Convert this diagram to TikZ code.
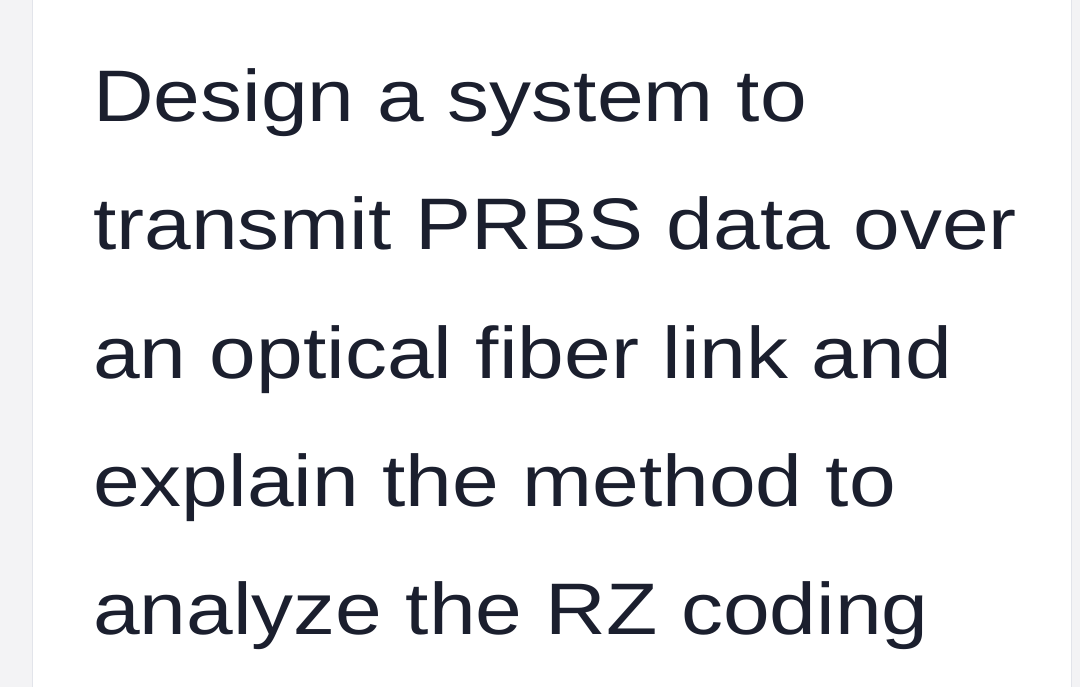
\documentclass[tikz,border=0pt]{standalone}
\usepackage{fontspec}
\setmainfont{Liberation Sans}
\definecolor{ink}{HTML}{1B1F2E}
\definecolor{side}{HTML}{F3F3F5}
\definecolor{edge}{HTML}{E2E4EA}
\begin{document}
\begin{tikzpicture}[x=1pt,y=-1pt,
  line/.style={anchor=base west,inner sep=0pt,text=ink,xscale=1.15,font=\fontsize{73}{73}\selectfont}]
\useasboundingbox (0,0) rectangle (1080,687);
\fill[side] (0,0) rectangle (32,687);
\fill[side] (1072,0) rectangle (1080,687);
\draw[edge,line width=1.5pt] (32.5,0) -- (32.5,687);
\draw[edge,line width=1.5pt] (1071.5,0) -- (1071.5,687);
\node[line] (l1) at (93,122) {Design a system to};
\node[line] (l2) at (93,250) {transmit PRBS data over};
\node[line] (l3) at (93,378) {an optical fiber link and};
\node[line] (l4) at (93,506) {explain the method to};
\node[line] (l5) at (93,634) {analyze the RZ coding};
\end{tikzpicture}
\end{document}
